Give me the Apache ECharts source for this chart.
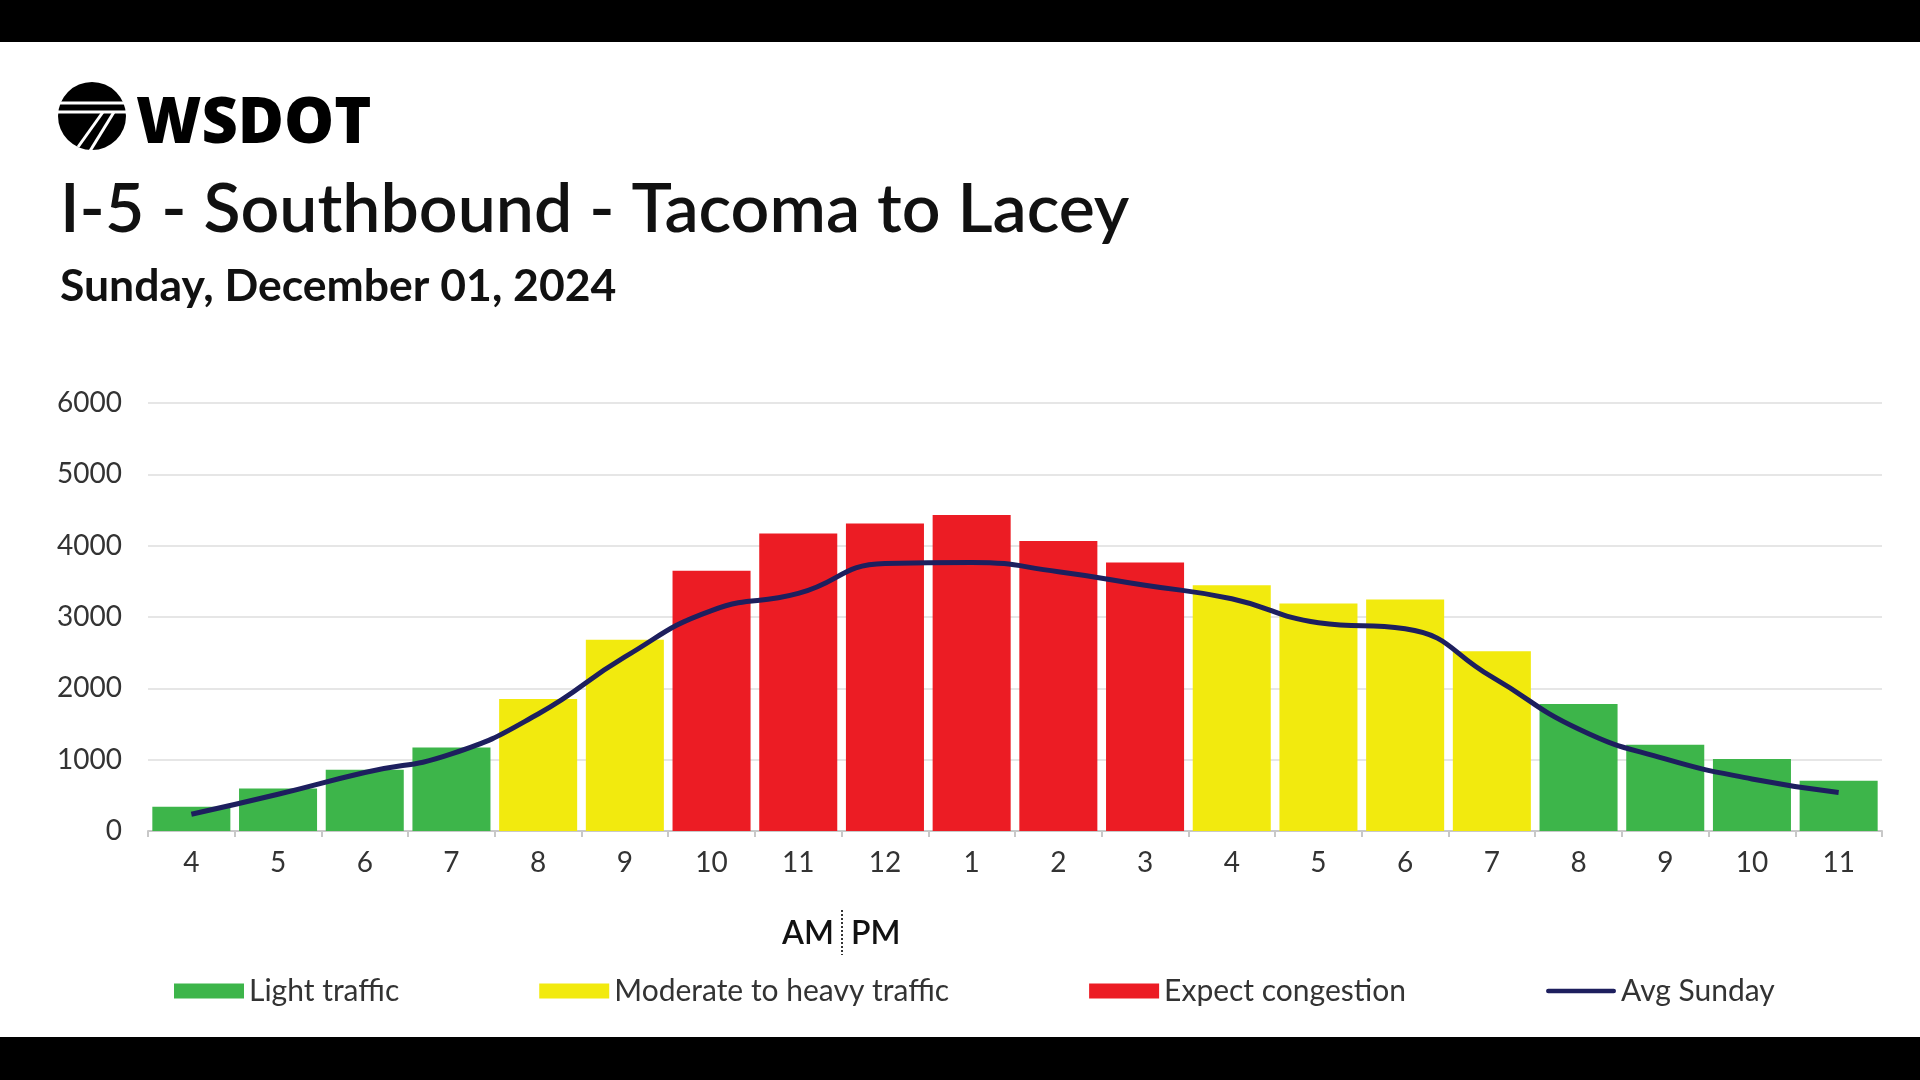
<!DOCTYPE html>
<html lang="en">
<head>
    <meta charset="UTF-8">
    <title>I-5 - Southbound - Tacoma to Lacey</title>
    <script src="https://cdn.jsdelivr.net/npm/echarts@6/dist/echarts.min.js"></script>
    <style>
        html, body { margin: 0; padding: 0; background: #000; }
        #chartmain { position: absolute; left: 0; top: 42px; width: 1920px; height: 995px; background: #fff; }
    </style>
</head>
<body>
<div id="chartmain"></div>
<script>
    // hours of the day (4 AM .. 11 PM)
    var hours = ["4", "5", "6", "7", "8", "9", "10", "11", "12", "1", "2", "3", "4", "5", "6", "7", "8", "9", "10", "11"];
    // volumes for Sunday, December 01, 2024
    var volumes = [340, 595, 860, 1170, 1850, 2680, 3650, 4170, 4310, 4430, 4065, 3765, 3445, 3190, 3245, 2520, 1780, 1210, 1010, 705];
    // average Sunday
    var avgSunday = [235, 515, 820, 1080, 1640, 2440, 3090, 3330, 3750, 3765, 3635, 3445, 3255, 2920, 2835, 2160, 1430, 1010, 730, 540];
    // traffic level for each hour: 0 light, 1 moderate, 2 congestion
    var levels = [0, 0, 0, 0, 1, 1, 2, 2, 2, 2, 2, 2, 1, 1, 1, 1, 0, 0, 0, 0];
    var levelNames = ["Light traffic", "Moderate to heavy traffic", "Expect congestion"];
    var levelColors = ["#3db54a", "#f2ea0e", "#ec1c24"];
    var yTicks = [0, 1000, 2000, 3000, 4000, 5000, 6000];

    var fontName = "Lato";

    var barSeries = levelNames.map(function (name, k) {
        return {
            name: name,
            type: 'bar',
            barGap: '-100%',
            barCategoryGap: '10%',
            itemStyle: {color: levelColors[k]},
            data: volumes.map(function (v, i) {
                return levels[i] === k ? v : '-';
            })
        };
    });

    var option = {
        animation: false,
        textStyle: {fontFamily: fontName},
        grid: {left: 148, right: 38, top: 361, bottom: 206},
        legend: {
            left: 169,
            top: 929,
            itemWidth: 70,
            itemHeight: 15,
            itemGap: 140,
            textStyle: {fontFamily: fontName, fontSize: 30, color: '#333'},
            data: [
                {name: levelNames[0], icon: 'rect'},
                {name: levelNames[1], icon: 'rect'},
                {name: levelNames[2], icon: 'rect'},
                {name: 'Avg Sunday', icon: 'path://M2.5,0 L73.5,0 A2.5,2.5 0 0 1 73.5,5 L2.5,5 A2.5,2.5 0 0 1 2.5,0 Z'}
            ]
        },
        xAxis: {
            type: 'category',
            data: hours,
            axisLine: {lineStyle: {color: '#c8c8c8', width: 2}},
            axisTick: {show: true, length: 6, lineStyle: {color: '#c8c8c8', width: 2}},
            axisLabel: {fontSize: 28, color: '#333', margin: 18, fontFamily: fontName}
        },
        yAxis: {
            type: 'value',
            min: yTicks[0],
            max: yTicks[yTicks.length - 1],
            interval: 1000,
            axisLine: {show: false},
            axisTick: {show: false},
            splitLine: {lineStyle: {color: '#e6e6e6', width: 2}},
            axisLabel: {
                fontSize: 28, color: '#333', margin: 26, fontFamily: fontName,
                formatter: function (v) { return String(v); }
            }
        },
        graphic: [
            // logo
            {type: 'circle', shape: {cx: 92, cy: 74, r: 34}, style: {fill: '#000'}},
            {type: 'line', shape: {x1: 56, y1: 61, x2: 128, y2: 61}, style: {stroke: '#fff', lineWidth: 3}},
            {type: 'line', shape: {x1: 56, y1: 70, x2: 128, y2: 70}, style: {stroke: '#fff', lineWidth: 3}},
            {type: 'line', shape: {x1: 103, y1: 70, x2: 78, y2: 105}, style: {stroke: '#fff', lineWidth: 3}},
            {type: 'line', shape: {x1: 114, y1: 70, x2: 90, y2: 109}, style: {stroke: '#fff', lineWidth: 3}},
            {type: 'text', left: 136, top: 52, style: {text: 'WSDOT', font: '800 63px "Open Sans"', fill: '#000'}},
            // headings
            {type: 'text', left: 60, top: 134, style: {text: 'I-5 - Southbound - Tacoma to Lacey', font: '600 68px Lato', fill: '#111'}},
            {type: 'text', left: 60, top: 222, style: {text: 'Sunday, December 01, 2024', font: 'bold 44.5px Lato', fill: '#111'}},
            // AM | PM marker
            {type: 'text', right: 1920 - 834, top: 876, style: {text: 'AM', font: '600 32px Lato', fill: '#111', textAlign: 'right'}},
            {type: 'text', left: 851, top: 876, style: {text: 'PM', font: '600 32px Lato', fill: '#111'}},
            {type: 'line', shape: {x1: 842, y1: 868, x2: 842, y2: 913}, style: {stroke: '#333', lineWidth: 2, lineDash: [2, 2]}}
        ],
        series: barSeries.concat([{
            name: 'Avg Sunday',
            type: 'line',
            smooth: true,
            symbol: 'none',
            lineStyle: {color: '#1d1f5e', width: 5},
            itemStyle: {color: '#1d1f5e'},
            z: 5,
            data: avgSunday
        }])
    };

    var myChart = echarts.init(document.getElementById('chartmain'));
    myChart.setOption(option);
</script>
</body>
</html>
